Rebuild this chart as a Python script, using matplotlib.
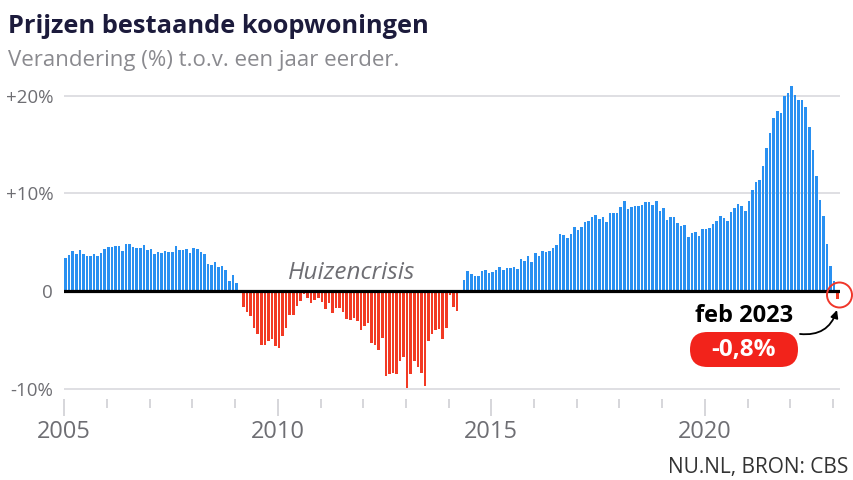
import matplotlib
matplotlib.use("Agg")
import matplotlib.pyplot as plt
from matplotlib.patches import FancyBboxPatch, Circle
from matplotlib.ticker import FixedLocator

# year-on-year change (%) per month, Jan 2005 .. Feb 2023
change_2005_2008 = [
    3.4, 3.7, 4.1, 3.75, 4.2, 3.8, 3.6, 3.6, 3.75, 3.6, 3.9, 4.3,
    4.5, 4.5, 4.6, 4.6, 4.1, 4.8, 4.8, 4.5, 4.4, 4.4, 4.7, 4.2,
    4.3, 3.75, 4.0, 3.9, 4.1, 4.0, 4.0, 4.6, 4.2, 4.2, 4.3, 3.9,
    4.4, 4.3, 4.0, 3.8, 2.8, 2.7, 3.0, 2.5, 2.6, 2.15, 1.0, 1.6,
]
change_2009_2013 = [
    0.85, -0.1, -1.6, -2.1, -2.6, -3.75, -4.4, -5.5, -5.5, -5.1, -4.9, -5.6,
    -5.8, -4.6, -3.8, -2.5, -2.5, -1.5, -1.0, -0.3, -0.75, -1.2, -0.95, -0.75,
    -1.1, -1.8, -1.2, -2.3, -1.7, -1.7, -2.2, -2.9, -3.0, -2.8, -3.1, -4.0,
    -3.6, -3.3, -5.3, -5.5, -6.0, -4.8, -8.7, -8.5, -8.4, -8.5, -7.2, -6.8,
    -9.9, -8.5, -7.2, -7.8, -8.4, -9.7, -5.1, -4.4, -4.0, -3.9, -4.9, -3.75,
]
change_2014_2019 = [
    -0.4, -1.6, -2.0, 0.1, 1.15, 2.0, 1.7, 1.5, 1.5, 2.0, 2.1, 1.8,
    1.9, 2.2, 2.5, 2.1, 2.35, 2.35, 2.5, 2.3, 3.3, 3.1, 3.55, 3.0,
    3.9, 3.55, 4.05, 4.0, 4.05, 4.4, 4.7, 5.8, 5.7, 5.4, 5.8, 6.5,
    6.2, 6.5, 7.1, 7.2, 7.6, 7.75, 7.4, 7.6, 7.1, 8.0, 8.0, 8.0,
    8.6, 9.25, 8.4, 8.6, 8.7, 8.7, 8.8, 9.1, 9.1, 8.8, 9.25, 8.2,
    8.5, 7.3, 7.55, 7.55, 7.0, 6.7, 6.8, 5.5, 5.9, 6.05, 5.6, 6.3,
]
change_2020_2023 = [
    6.3, 6.45, 6.9, 7.2, 7.65, 7.5, 7.2, 8.1, 8.5, 8.9, 8.7, 8.15,
    9.2, 10.3, 11.2, 11.4, 12.8, 14.6, 16.2, 17.7, 18.4, 18.2, 20.0, 20.3,
    21.0, 20.1, 19.5, 19.6, 18.8, 16.8, 14.4, 11.8, 9.35, 7.65, 4.85, 2.6,
    1.0, -0.8,
]
changes = change_2005_2008 + change_2009_2013 + change_2014_2019 + change_2020_2023
months = [2005 + i / 12 for i in range(len(changes))]

y_ticks = [-10, 0, 10, 20]
y_labels = ["-10%", "0", "+10%", "+20%"]
year_ticks = [2005, 2010, 2015, 2020]
minor_years = list(range(2005, 2024))

BLUE = "#2990f1"
RED = "#f23a24"
GREY = "#6e6e73"
FONT = ["Open Sans", "DejaVu Sans"]
plt.rcParams["font.family"] = FONT

W, H = 854, 480
fig = plt.figure(figsize=(W / 100, H / 100), dpi=100)
fig.patch.set_facecolor("white")


def px(x, y):
    # top-left pixel -> figure fraction
    return x / W, 1 - y / H


# axes box in pixels: left 64.3, right 840, top 81, bottom 399 ; zero at y=291, 9.77 px per %
left, right, top, bottom = 64.3, 840, 81, 399
ax = fig.add_axes([left / W, 1 - bottom / H, (right - left) / W, (bottom - top) / H])
ax.set_xlim(2005, 2005 + (right - left) / 42.7)
ax.set_ylim(-(bottom - 291) / 9.77, (291 - top) / 9.77)

colors = [BLUE if v >= 0 else RED for v in changes]
ax.bar(months, changes, width=0.72 / 12, align="edge", color=colors, zorder=2, linewidth=0)

for v in [-10, 10, 20]:
    ax.axhline(v, color="#d9d9de", lw=1.2, zorder=1)
ax.axhline(0, xmax=0.997, color="black", lw=2.3, zorder=3)

for s in ax.spines.values():
    s.set_visible(False)

ax.set_yticks(y_ticks)
ax.set_yticklabels(y_labels)
ax.tick_params(axis="y", length=0, pad=8, labelsize=13.5, labelcolor=GREY)

ax.xaxis.set_major_locator(FixedLocator(year_ticks))
ax.xaxis.set_minor_locator(FixedLocator(minor_years))
ax.set_xticklabels([str(y) for y in year_ticks])
ax.tick_params(axis="x", which="major", direction="out", length=12, width=1.2,
               color="#cfcfd4", pad=3, labelsize=17, labelcolor=GREY)
ax.tick_params(axis="x", which="minor", direction="out", length=6.5, width=1.2, color="#cfcfd4")

ax.text(2011.74, 1.8, "Huizencrisis", ha="center", va="center", fontsize=17.5,
        style="italic", color=GREY, zorder=4)

# titles
fig.text(*px(8, 33), "Prijzen bestaande koopwoningen", fontsize=18.3, fontweight="bold",
         color="#1c1b3c", ha="left", va="baseline")
fig.text(*px(8, 66), "Verandering (%) t.o.v. een jaar eerder.", fontsize=16,
         color="#8a8a8f", ha="left", va="baseline")
fig.text(*px(848, 467), "NU.NL, BRON: CBS", fontsize=15, color="#333333",
         ha="right", va="center")

# callout for the last month
fig.text(*px(744, 316), "feb 2023", fontsize=17, fontweight="bold", color="black",
         ha="center", va="center")
pill = FancyBboxPatch((690 / 100, (H - 367) / 100), 108 / 100, 35 / 100,
                      boxstyle="round,pad=0,rounding_size=0.175",
                      transform=fig.dpi_scale_trans, facecolor="#f2231b", edgecolor="none")
fig.add_artist(pill)
fig.text(*px(744, 350), "-0,8%", fontsize=17.5, fontweight="bold", color="white",
         ha="center", va="center")
ring = Circle((839.5 / 100, (H - 295) / 100), 12.5 / 100, transform=fig.dpi_scale_trans,
              fill=False, edgecolor="#f0362a", lw=1.4)
fig.add_artist(ring)
ax.annotate("", xy=(837, H - 310), xytext=(800, H - 334),
            xycoords="figure pixels", textcoords="figure pixels",
            arrowprops=dict(arrowstyle="-|>,head_length=0.45,head_width=0.22", color="black",
                            lw=1.3, connectionstyle="arc3,rad=0.4", shrinkA=0, shrinkB=0))

fig.savefig("out.png", dpi=100)
